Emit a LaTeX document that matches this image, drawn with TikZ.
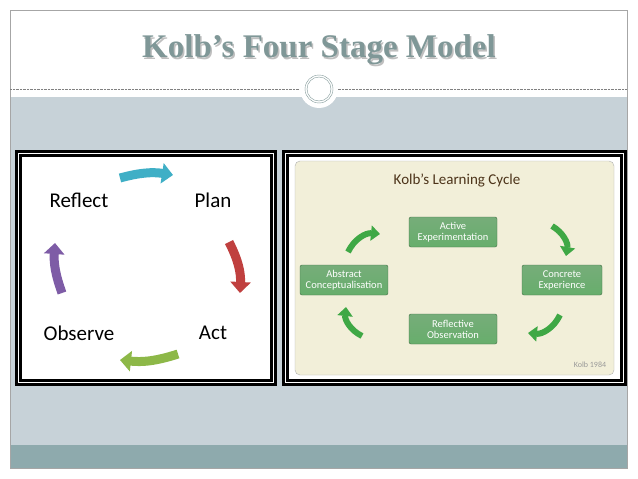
\documentclass[tikz,border=0pt]{standalone}
\usepackage{fontspec}
\setmainfont{Liberation Serif}
\newfontfamily\sfc{Carlito}
\usetikzlibrary{arrows.meta}
\definecolor{band}{HTML}{C7D2D8}
\definecolor{bandd}{HTML}{8EAAAD}
\definecolor{ttl}{HTML}{7F9797}
\definecolor{beige}{HTML}{F2EFD9}
\definecolor{gbox}{HTML}{5E9E62}
\definecolor{garr}{HTML}{3FA845}
\definecolor{ablue}{HTML}{3FAFC6}
\definecolor{ared}{HTML}{C0403F}
\definecolor{agreen}{HTML}{8DB848}
\definecolor{apurp}{HTML}{7E5CA6}
\tikzset{
 box/.style={draw=gbox!70!black,rounded corners=2pt,top color=gbox!85,bottom color=gbox!110!black,text=white,
   font=\sfc\fontsize{10.5}{11}\selectfont,align=center,minimum width=88pt,minimum height=30pt,inner sep=1pt},
 lbl/.style={font=\sfc\fontsize{21}{23}\selectfont},
 fat/.style={line width=9pt,-{Triangle[width=20pt,length=11pt]}},
 gar/.style={garr,line width=6pt,-{Triangle[width=15pt,length=9pt]}}
}
\begin{document}
\begin{tikzpicture}[x=1pt,y=-1pt]
\useasboundingbox (0,0) rectangle (638,479);
\fill[white] (0,0) rectangle (638,479);
\fill[band] (10,97) rectangle (627,445);
\fill[bandd] (10,445) rectangle (627,468);
\draw[gray!70] (10,10) rectangle (627,468);
\draw[gray,densely dotted] (10,89) -- (627,89);
\fill[white] (319,89) circle (19);
\draw[ttl] (319,89) circle (14);
\draw[ttl] (319,89) circle (12);
\node[font=\bfseries\fontsize{33}{35}\selectfont,text=black!25] at (320.5,51.5) {Kolb’s Four Stage Model};
\node[font=\bfseries\fontsize{33}{35}\selectfont,text=ttl] (title) at (319,50) {Kolb’s Four Stage Model};
% left panel
\fill[black] (15,150) rectangle (277,386);
\draw[white,line width=1pt] (18.5,153.5) rectangle (273.5,382.5);
\fill[white] (22,157) rectangle (270,379);
\node[lbl] (refl) at (79,200) {Reflect};
\node[lbl] (plan) at (213,200) {Plan};
\node[lbl] (obs) at (79,333) {Observe};
\node[lbl] (act) at (213,333) {Act};
\draw[fat,ablue] (120,178) to[bend left=12] (173,175);
\draw[fat,ared] (229,242) to[bend left=15] (240,293);
\draw[fat,agreen] (178,354) to[bend left=12] (120,360);
\draw[fat,apurp] (62,293) to[bend left=12] (55,243);
% right panel
\fill[black] (282,150) rectangle (627,386);
\draw[white,line width=1pt] (285.5,153.5) rectangle (623.5,382.5);
\fill[white] (289,157) rectangle (620,379);
\draw[gray!60,fill=beige,rounded corners=5pt] (295,161) rectangle (614,375);
\node[font=\sfc\fontsize{15}{16}\selectfont,text=black!60!brown] (lc) at (457,180) {Kolb’s Learning Cycle};
\node[box] (ae) at (453,232) {Active\\Experimentation};
\node[box,minimum width=80pt] (ce) at (562,280) {Concrete\\Experience};
\node[box] (ro) at (453,329) {Reflective\\Observation};
\node[box] (ac) at (344,280) {Abstract\\Conceptualisation};
\node[font=\sfc\fontsize{8}{9}\selectfont,text=black!40] (yr) at (590,365) {Kolb 1984};
\draw[gar] (348,252) to[bend left=35] (380,234);
\draw[gar] (552,226) to[bend left=35] (566,256);
\draw[gar] (560,315) to[bend left=35] (528,333);
\draw[gar] (362,336) to[bend left=35] (346,307);
\end{tikzpicture}
\end{document}
